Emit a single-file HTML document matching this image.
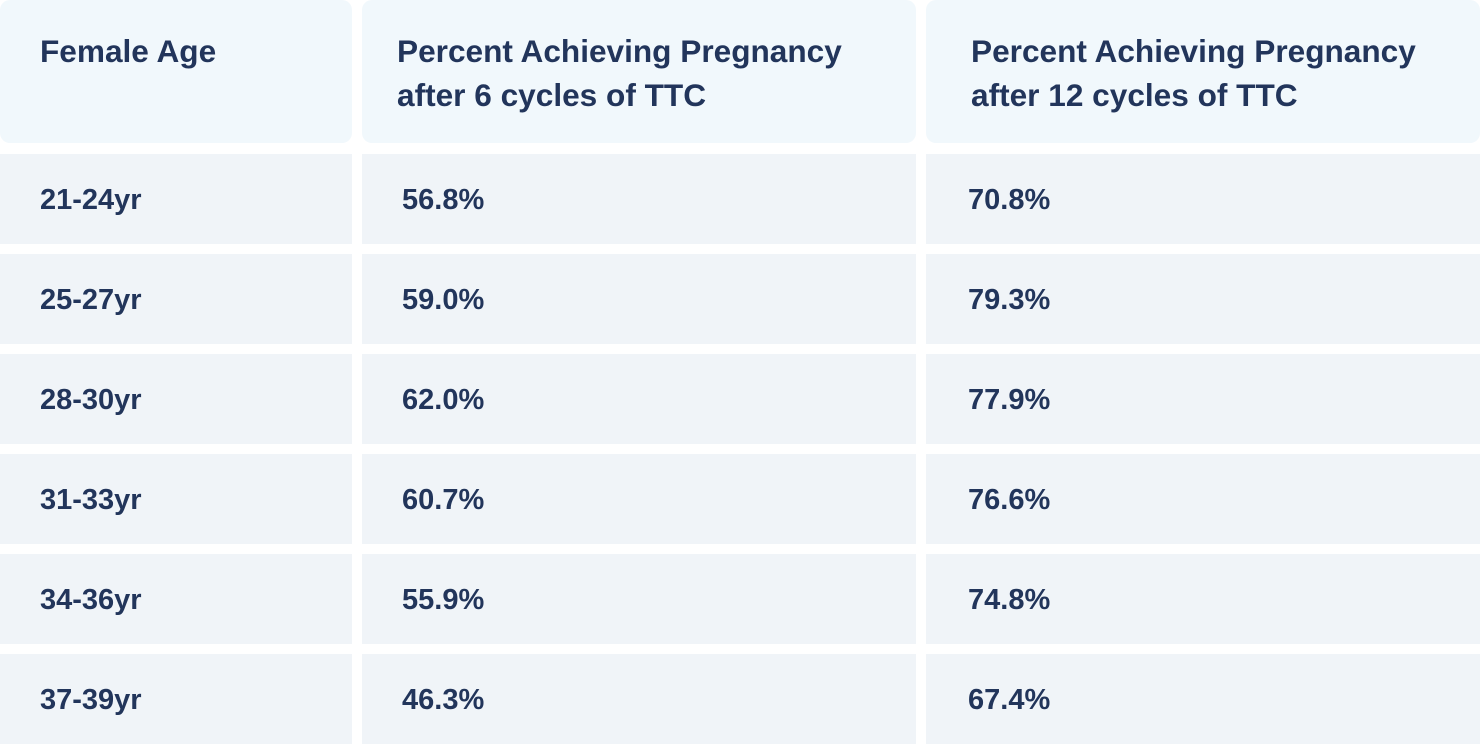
<!DOCTYPE html>
<html>
<head>
<meta charset="utf-8">
<style>
  html, body { margin:0; padding:0; }
  body { width:1480px; height:744px; background:#ffffff; position:relative; overflow:hidden;
         font-family:"Liberation Sans", Arial, sans-serif; color:#22355b; }
  .h { position:absolute; top:0; height:143px; background:#f1f8fc; border-radius:10px; }
  .ht { position:absolute; top:29px; font-size:31.6px; line-height:44px; font-weight:700; white-space:nowrap; }
  .c { position:absolute; height:90px; background:#f0f4f8; display:flex; align-items:center; }
  .c span { font-size:29px; font-weight:700; white-space:nowrap; position:relative; top:1px; }
</style>
</head>
<body>
  <div class="h" style="left:0;width:352px;"></div>
  <div class="h" style="left:362px;width:554px;"></div>
  <div class="h" style="left:926px;width:554px;"></div>

  <div class="ht" style="left:40px;">Female Age</div>
  <div class="ht" style="left:397px;">Percent Achieving Pregnancy<br>after 6 cycles of TTC</div>
  <div class="ht" style="left:971px;">Percent Achieving Pregnancy<br>after 12 cycles of TTC</div>

  <!-- row 1 -->
  <div class="c" style="top:154px;left:0;width:352px;"><span style="left:40px;">21-24yr</span></div>
  <div class="c" style="top:154px;left:362px;width:554px;"><span style="left:40px;">56.8%</span></div>
  <div class="c" style="top:154px;left:926px;width:554px;"><span style="left:42px;">70.8%</span></div>
  <!-- row 2 -->
  <div class="c" style="top:254px;left:0;width:352px;"><span style="left:40px;">25-27yr</span></div>
  <div class="c" style="top:254px;left:362px;width:554px;"><span style="left:40px;">59.0%</span></div>
  <div class="c" style="top:254px;left:926px;width:554px;"><span style="left:42px;">79.3%</span></div>
  <!-- row 3 -->
  <div class="c" style="top:354px;left:0;width:352px;"><span style="left:40px;">28-30yr</span></div>
  <div class="c" style="top:354px;left:362px;width:554px;"><span style="left:40px;">62.0%</span></div>
  <div class="c" style="top:354px;left:926px;width:554px;"><span style="left:42px;">77.9%</span></div>
  <!-- row 4 -->
  <div class="c" style="top:454px;left:0;width:352px;"><span style="left:40px;">31-33yr</span></div>
  <div class="c" style="top:454px;left:362px;width:554px;"><span style="left:40px;">60.7%</span></div>
  <div class="c" style="top:454px;left:926px;width:554px;"><span style="left:42px;">76.6%</span></div>
  <!-- row 5 -->
  <div class="c" style="top:554px;left:0;width:352px;"><span style="left:40px;">34-36yr</span></div>
  <div class="c" style="top:554px;left:362px;width:554px;"><span style="left:40px;">55.9%</span></div>
  <div class="c" style="top:554px;left:926px;width:554px;"><span style="left:42px;">74.8%</span></div>
  <!-- row 6 -->
  <div class="c" style="top:654px;left:0;width:352px;"><span style="left:40px;">37-39yr</span></div>
  <div class="c" style="top:654px;left:362px;width:554px;"><span style="left:40px;">46.3%</span></div>
  <div class="c" style="top:654px;left:926px;width:554px;"><span style="left:42px;">67.4%</span></div>
</body>
</html>
